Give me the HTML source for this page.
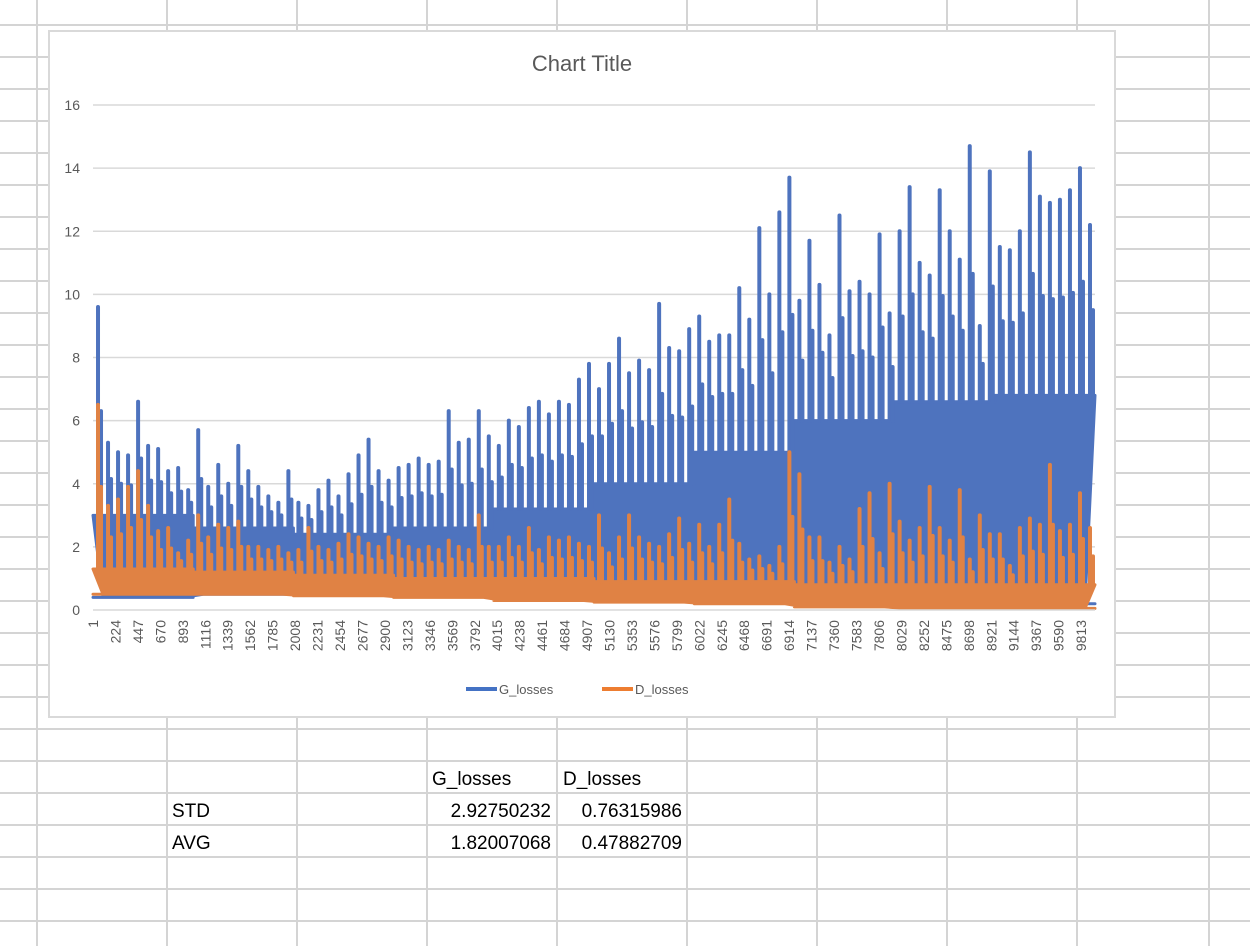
<!DOCTYPE html>
<html><head><meta charset="utf-8"><style>
body{margin:0;width:1250px;height:946px;overflow:hidden;background:#fff;font-family:"Liberation Sans",sans-serif}
svg{position:absolute;left:0;top:0}
</style></head><body>
<svg id="s" width="1250" height="946">
<g id="grid"></g>
<rect x="49" y="31" width="1066" height="686" fill="#fff" stroke="#d9d9d9" stroke-width="2"/>
<text x="582" y="71" text-anchor="middle" font-size="22" fill="#595959">Chart Title</text>
<g id="yax"></g>
<g id="plot"></g>
<g id="xax"></g>
<g>
<g><line x1="466" y1="689" x2="497" y2="689" stroke="#4472c4" stroke-width="4"/><text x="499" y="694" font-size="13" fill="#595959">G_losses</text></g>
<g><line x1="602" y1="689" x2="633" y2="689" stroke="#ed7d31" stroke-width="4"/><text x="635" y="694" font-size="13" fill="#595959">D_losses</text></g>
</g>
<g font-size="19" fill="#000">
<text x="432" y="785">G_losses</text>
<text x="563" y="785">D_losses</text>
<text x="172" y="817">STD</text>
<text x="551" y="817" text-anchor="end">2.92750232</text>
<text x="682" y="817" text-anchor="end">0.76315986</text>
<text x="172" y="849">AVG</text>
<text x="551" y="849" text-anchor="end">1.82007068</text>
<text x="682" y="849" text-anchor="end">0.47882709</text>
</g>
</svg>
<script>
const gPeaks=[9.6,5.3,5.0,4.9,6.6,5.2,5.1,4.4,4.5,3.8,5.7,3.9,4.6,4.0,5.2,4.4,3.9,3.6,3.4,4.4,3.4,3.3,3.8,4.1,3.6,4.3,4.9,5.4,4.4,4.1,4.5,4.6,4.8,4.6,4.7,6.3,5.3,5.4,6.3,5.5,5.2,6.0,5.8,6.4,6.6,6.2,6.6,6.5,7.3,7.8,7.0,7.8,8.6,7.5,7.9,7.6,9.7,8.3,8.2,8.9,9.3,8.5,8.7,8.7,10.2,9.2,12.1,10.0,12.6,13.7,9.8,11.7,10.3,8.7,12.5,10.1,10.4,10.0,11.9,9.4,12.0,13.4,11.0,10.6,13.3,12.0,11.1,14.7,9.0,13.9,11.5,11.4,12.0,14.5,13.1,12.9,13.0,13.3,14.0,12.2];
const gBody=[3.0,2.6,2.4,2.6,3.2,4.0,5.0,6.0,6.6,6.8];
const gLow=[0.4,0.5,0.5,0.5,0.5,0.4,0.4,0.3,0.2,0.2];
const dPeaks=[6.5,3.3,3.5,3.9,4.4,3.3,2.5,2.6,1.8,2.2,3.0,2.3,2.7,2.6,2.8,2.0,2.0,1.9,2.0,1.8,1.9,2.6,2.0,1.9,2.1,2.4,2.3,2.1,2.0,2.3,2.2,2.0,1.9,2.0,1.9,2.2,2.0,1.9,3.0,2.0,2.0,2.3,2.0,2.6,1.9,2.3,2.2,2.3,2.1,2.0,3.0,1.8,2.3,3.0,2.3,2.1,2.0,2.4,2.9,2.1,2.7,2.0,2.7,3.5,2.1,1.6,1.7,1.4,2.0,5.0,4.3,2.3,2.3,1.5,2.0,1.6,3.2,3.7,1.8,4.0,2.8,2.2,2.6,3.9,2.6,2.2,3.8,1.6,3.0,2.4,2.4,1.4,2.6,2.9,2.7,4.6,2.5,2.7,3.7,2.6];
const dBody=[1.3,1.2,1.1,1.0,1.0,0.9,0.9,0.8,0.8,0.8];
const dLow=[0.5,0.5,0.45,0.4,0.3,0.25,0.2,0.1,0.05,0.05];
const yTicks=[0,2,4,6,8,10,12,14,16];
const N=9950, STEP=223;
const NS='http://www.w3.org/2000/svg';
const L=93,W=1002,Y0=610,YS=31.56;
const xs=c=>L+(c/N)*W;
const ys=v=>Y0-v*YS;
function mk(t,a,p){const e=document.createElementNS(NS,t);for(const k in a)e.setAttribute(k,a[k]);p.appendChild(e);return e;}
// sheet grid
const grid=document.getElementById('grid');
[37,167,297,427,557,687,817,947,1077,1209].forEach(x=>{const l=mk('line',{x1:x,y1:0,x2:x,y2:946,stroke:'#d4d4d4','stroke-width':2},grid);

});
for(let y=25;y<946;y+=32){const l=mk('line',{x1:0,y1:y,x2:1250,y2:y,stroke:'#d4d4d4','stroke-width':2},grid);

}
// y axis
const yax=document.getElementById('yax');
yTicks.forEach(v=>{
 if(v>0){const g=mk('line',{x1:L,y1:ys(v),x2:L+W,y2:ys(v),stroke:'#d9d9d9','stroke-width':1.5},yax);
 
 }
 const t=mk('text',{x:80,y:ys(v)+5,'text-anchor':'end','font-size':14,fill:'#595959'},yax);
 
 
 t.textContent=v;
});
// series
const plot=document.getElementById('plot');
function series(peaks,body,low,color,name){
 const nb=peaks.length,bw=N/nb;
 let top=[],bot=[];
 for(let i=0;i<nb;i++){const c=Math.floor(i*body.length/nb);
  top.push([xs(i*bw),ys(body[c])],[xs((i+1)*bw),ys(body[c])]);
  bot.unshift([xs(i*bw),ys(low[c])],[xs((i+1)*bw),ys(low[c])]);}
 const p=mk('polygon',{points:top.concat(bot).map(q=>q.join(',')).join(' '),fill:color,stroke:color,'stroke-width':3,'stroke-linejoin':'round'},plot);
 
 
 for(let i=0;i<nb;i++){const c=Math.floor(i*body.length/nb);const x=xs((i+0.5)*bw);
  const l=mk('line',{x1:x,y1:ys(body[c]),x2:x,y2:ys(peaks[i]),stroke:color,'stroke-width':4,'stroke-linecap':'round'},plot);
  
  
  const x2=xs((i+0.8)*bw),h=(peaks[i]+body[c])/2;
  const l2=mk('line',{x1:x2,y1:ys(body[c]),x2:x2,y2:ys(h),stroke:color,'stroke-width':4,'stroke-linecap':'round'},plot);
  
  }
}
series(gPeaks,gBody,gLow,'#4e73be','g-losses');
series(dPeaks,dBody,dLow,'#e08244','d-losses');
const ax=mk('line',{x1:L,y1:Y0,x2:L+W,y2:Y0,stroke:'#d9d9d9','stroke-width':1.5},plot);


// x labels
const xax=document.getElementById('xax');
for(let c=1;c<N;c+=STEP){const x=xs(c-1)+5;
 const t=mk('text',{x:x,y:620,'text-anchor':'end','font-size':14,fill:'#595959',transform:`rotate(-90 ${x} 620)`},xax);
 
 
 t.textContent=c;}
</script>
</body></html>
